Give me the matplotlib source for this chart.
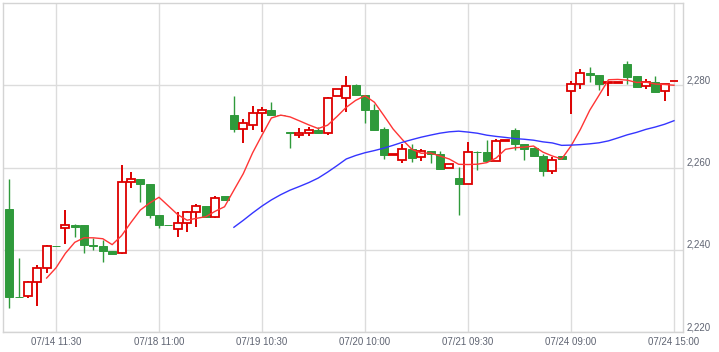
import matplotlib
matplotlib.use('Agg')
import matplotlib.pyplot as plt
from matplotlib.patches import Rectangle
from matplotlib.ticker import FuncFormatter
import pandas as pd

# ---- data (30-min bars) ----
opens = [2249.8, 2228.6, 2228.7, 2232.2, 2235.5, 2240.9, 2245.3, 2246.1, 2245.9, 2241.2,
         2240.9, 2239.8, 2239.2, 2256.5, 2257.1, 2256.1, 2248.5, 2246.0, 2245.0, 2246.5,
         2249.2, 2250.7, 2248.0, 2253.1, 2272.7, 2269.4, 2270.4, 2273.3, 2274.1, 2272.8,
         2268.6, 2268.0, 2268.5, 2269.2, 2268.5, 2277.5, 2277.0, 2280.0, 2277.6, 2274.1,
         2269.3, 2263.0, 2261.9, 2264.5, 2262.6, 2264.1, 2263.2, 2259.9, 2257.5, 2256.0,
         2263.8, 2263.8, 2261.6, 2266.5, 2269.0, 2265.8, 2264.7, 2262.9, 2259.1, 2262.7,
         2278.7, 2280.4, 2283.0, 2282.4, 2280.5, 2280.6, 2285.1, 2282.2, 2279.7, 2280.7,
         2278.5, 2281.0]
closes = [2228.5, 2228.5, 2232.2, 2235.5, 2240.9, 2240.9, 2246.1, 2245.6, 2241.1, 2240.8,
          2239.8, 2238.9, 2256.5, 2257.1, 2255.9, 2248.4, 2245.9, 2246.0, 2246.5, 2249.1,
          2250.7, 2247.9, 2252.6, 2252.0, 2269.3, 2270.7, 2273.3, 2274.1, 2272.8, 2272.8,
          2268.5, 2268.5, 2269.2, 2268.4, 2276.8, 2279.0, 2279.8, 2277.6, 2274.0, 2269.0,
          2263.0, 2263.2, 2264.6, 2262.4, 2264.1, 2263.3, 2259.6, 2260.9, 2256.0, 2263.8,
          2263.7, 2261.5, 2266.5, 2266.6, 2265.7, 2264.5, 2262.8, 2259.1, 2261.9, 2262.0,
          2280.4, 2282.9, 2282.4, 2280.3, 2280.7, 2280.8, 2282.0, 2279.6, 2280.7, 2278.4,
          2280.2, 2281.1]
highs = [2257.3, 2238.0, 2232.5, 2236.3, 2241.2, 2240.9, 2249.7, 2246.3, 2245.9, 2242.8,
         2242.4, 2239.8, 2260.7, 2258.9, 2257.1, 2256.1, 2248.5, 2246.0, 2249.2, 2249.5,
         2251.1, 2250.7, 2253.1, 2253.1, 2277.3, 2271.8, 2275.0, 2274.7, 2276.0, 2272.8,
         2268.6, 2269.7, 2269.8, 2269.8, 2277.2, 2279.0, 2282.2, 2280.2, 2277.6, 2275.5,
         2269.9, 2263.2, 2265.6, 2265.6, 2264.4, 2264.1, 2264.1, 2260.9, 2260.2, 2266.3,
         2263.9, 2266.8, 2267.0, 2266.6, 2269.5, 2265.8, 2265.0, 2263.3, 2262.5, 2262.7,
         2281.1, 2283.9, 2284.5, 2282.4, 2280.7, 2280.8, 2285.9, 2282.2, 2281.4, 2282.2,
         2280.2, 2281.1]
lows = [2225.9, 2228.5, 2228.2, 2226.3, 2234.4, 2240.9, 2241.4, 2243.0, 2239.1, 2239.9,
        2236.9, 2238.9, 2239.0, 2255.0, 2251.5, 2247.7, 2245.4, 2246.0, 2243.1, 2244.3,
        2245.5, 2247.9, 2247.6, 2252.0, 2268.7, 2266.0, 2269.0, 2268.7, 2272.8, 2272.8,
        2264.8, 2267.1, 2267.7, 2268.4, 2268.0, 2277.5, 2273.5, 2277.6, 2270.9, 2269.0,
        2262.0, 2263.0, 2261.2, 2261.4, 2261.5, 2261.1, 2259.6, 2259.9, 2248.5, 2256.0,
        2259.3, 2261.5, 2261.6, 2266.5, 2264.3, 2261.9, 2262.8, 2258.0, 2258.5, 2262.0,
        2273.1, 2279.0, 2280.7, 2278.8, 2277.3, 2280.6, 2280.4, 2279.6, 2279.0, 2278.4,
        2276.2, 2281.0]

tick_labels = ['07/14 11:30', '07/18 11:00', '07/19 10:30', '07/20 10:00',
               '07/21 09:30', '07/24 09:00', '07/24 15:00']
tick_bars = [5, 16, 27, 38, 49, 60, 71]
y_ticks = [2220, 2240, 2260, 2280]

RED = '#dd0000'
GREEN = '#2f9a3b'
TXT = '#5f6472'

df = pd.DataFrame({'o': opens, 'h': highs, 'l': lows, 'c': closes})
ma_short = df['c'].rolling(5).mean()
ma_long = df['c'].rolling(25).mean()

fig = plt.figure(figsize=(7.19, 3.52), dpi=100)
ax = fig.add_axes([3 / 719, 20 / 352, 680 / 719, 329 / 352])

w = 0.86
for i, r in df.iterrows():
    if r.c > r.o:
        ax.vlines(i, r.l, r.h, color=RED, lw=1.4, zorder=2)
        ax.add_patch(Rectangle((i - w / 2, r.o), w, r.c - r.o, facecolor='white',
                               edgecolor=RED, lw=1.3, zorder=3))
    else:
        ax.vlines(i, r.l, r.h, color=GREEN, lw=1.0, zorder=2)
        ax.add_patch(Rectangle((i - w / 2, r.c), w, r.o - r.c, facecolor=GREEN,
                               edgecolor=GREEN, lw=0.7, zorder=3))

ax.plot(df.index, ma_short, color='#ff3535', lw=1.0, zorder=4)
ax.plot(df.index, ma_long, color='#3535ff', lw=1.0, zorder=4)

ax.set_xlim(-0.66, 71.96)
ax.set_ylim(2220, 2300)
ax.set_xticks(tick_bars)
ax.set_xticklabels(tick_labels)
ax.set_yticks(y_ticks)
ax.yaxis.set_major_formatter(FuncFormatter(lambda v, p: f'{v:,.0f}'))
ax.yaxis.tick_right()
ax.grid(True, color='#dcdcdc', lw=1.0, zorder=0)
ax.set_axisbelow(True)
for s in ax.spines.values():
    s.set_color('#d4d4d4')
    s.set_linewidth(1.0)
ax.tick_params(axis='both', length=0, colors=TXT, labelsize=7)
ax.tick_params(axis='x', pad=3.5)
ax.tick_params(axis='y', pad=2.5)
for lbl in ax.get_yticklabels():
    lbl.set_verticalalignment('bottom')
    lbl.set_family('Liberation Sans')
for lbl in ax.get_xticklabels():
    lbl.set_family('Liberation Sans')

fig.savefig('out.png', dpi=100)
